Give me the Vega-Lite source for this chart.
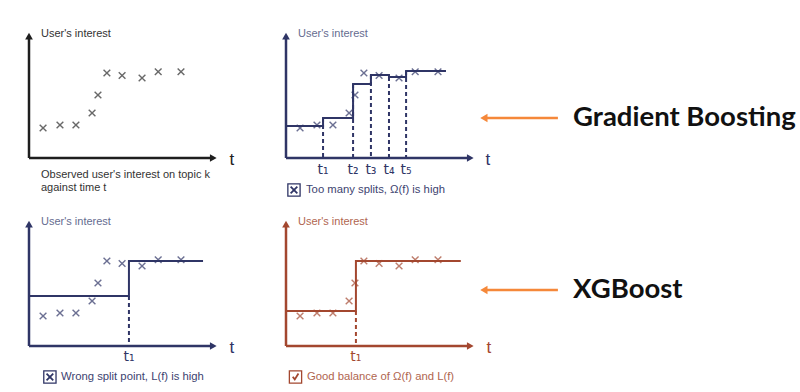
{
  "$schema": "https://vega.github.io/schema/vega-lite/v6.json",
  "background": "white",
  "padding": {"left": 25, "top": 28, "right": 0, "bottom": 0},
  "config": {"axis": {"disable": true}, "view": {"stroke": null}, "text": {"font": "Liberation Sans"}},
  "bounds": "flush",
  "columns": 3,
  "spacing": {"row": 63, "column": 67},
  "datasets": {
    "pts": [
      {"t": 0.74, "v": 2.4}, {"t": 1.63, "v": 2.64}, {"t": 2.47, "v": 2.64}, {"t": 3.32, "v": 3.6}, {"t": 3.63, "v": 5.04},
      {"t": 4.1, "v": 6.8}, {"t": 4.9, "v": 6.6}, {"t": 5.95, "v": 6.4}, {"t": 6.8, "v": 6.9}, {"t": 8.0, "v": 6.9}
    ],
    "steps2": [
      {"t": 0, "v": 2.56}, {"t": 1.95, "v": 3.2}, {"t": 3.53, "v": 5.92}, {"t": 4.47, "v": 6.64},
      {"t": 5.42, "v": 6.48}, {"t": 6.32, "v": 6.96}, {"t": 8.42, "v": 6.96}
    ],
    "splits2": [
      {"t": 1.95, "v": 3.2, "label": "t₁"}, {"t": 3.53, "v": 5.92, "label": "t₂"}, {"t": 4.47, "v": 6.64, "label": "t₃"},
      {"t": 5.42, "v": 6.48, "label": "t₄"}, {"t": 6.32, "v": 6.96, "label": "t₅"}
    ],
    "steps3": [{"t": 0, "v": 4.0}, {"t": 5.26, "v": 6.8}, {"t": 9.16, "v": 6.8}],
    "splits3": [{"t": 5.26, "v": 4.0, "label": "t₁"}],
    "steps4": [{"t": 0, "v": 2.8}, {"t": 3.68, "v": 6.8}, {"t": 9.2, "v": 6.8}],
    "splits4": [{"t": 3.68, "v": 2.8, "label": "t₁"}],
    "one": [{"s": "User's interest"}]
  },
  "concat": [
    {
      "width": 190, "height": 125,
      "layer": [
        {"data": {"name": "pts"}, "mark": {"type": "point", "shape": "M-1,-1L1,1M1,-1L-1,1", "size": 45, "filled": false, "stroke": "#2a2a2a", "strokeWidth": 1.4},
         "encoding": {"x": {"field": "t", "type": "quantitative", "scale": {"domain": [0, 10], "nice": false, "zero": false}},
                      "y": {"field": "v", "type": "quantitative", "scale": {"domain": [0, 10], "nice": false, "zero": false}}}},
        {"data": {"name": "one"}, "mark": {"type": "rule", "color": "#1e1e1e", "strokeWidth": 2.5}, "encoding": {"x": {"datum": 0}, "x2": {"datum": 9.7}, "y": {"datum": 0}}},
        {"data": {"name": "one"}, "mark": {"type": "rule", "color": "#1e1e1e", "strokeWidth": 2.5}, "encoding": {"x": {"datum": 0}, "y": {"datum": 0}, "y2": {"datum": 9.7}}},
        {"data": {"name": "one"}, "mark": {"type": "point", "shape": "triangle-right", "size": 60, "filled": true, "color": "#1e1e1e", "opacity": 1}, "encoding": {"x": {"datum": 9.7}, "y": {"datum": 0}}},
        {"data": {"name": "one"}, "mark": {"type": "point", "shape": "triangle-up", "size": 60, "filled": true, "color": "#1e1e1e", "opacity": 1}, "encoding": {"x": {"datum": 0}, "y": {"datum": 9.75}}},
        {"data": {"name": "one"}, "mark": {"type": "text", "text": "t", "fontSize": 17, "color": "#222", "align": "center", "baseline": "middle"}, "encoding": {"x": {"datum": 10.68}, "y": {"datum": -0.16}}},
        {"data": {"name": "one"}, "mark": {"type": "text", "fontSize": 11, "color": "#333", "align": "left", "baseline": "middle"}, "encoding": {"x": {"datum": 0.63}, "y": {"datum": 9.92}, "text": {"field": "s"}}},
        {"data": {"name": "one"}, "mark": {"type": "text", "text": ["Observed user's interest on topic k", "against time t"], "lineHeight": 13, "fontSize": 11, "color": "#333", "align": "left", "baseline": "top"}, "encoding": {"x": {"datum": 0.63}, "y": {"datum": -0.88}}}
      ]
    },
    {
      "width": 190, "height": 125,
      "layer": [
        {"data": {"name": "splits2"}, "mark": {"type": "rule", "color": "#2f3566", "strokeWidth": 2, "strokeDash": [4, 3]},
         "encoding": {"x": {"field": "t", "type": "quantitative", "scale": {"domain": [0, 10], "nice": false, "zero": false}},
                      "y": {"field": "v", "type": "quantitative", "scale": {"domain": [0, 10], "nice": false, "zero": false}}, "y2": {"datum": 0}}},
        {"data": {"name": "steps2"}, "mark": {"type": "line", "interpolate": "step-after", "color": "#2f3566", "strokeWidth": 2},
         "encoding": {"x": {"field": "t", "type": "quantitative"}, "y": {"field": "v", "type": "quantitative"}}},
        {"data": {"name": "pts"}, "mark": {"type": "point", "shape": "M-1,-1L1,1M1,-1L-1,1", "size": 45, "filled": false, "stroke": "#2f3566", "strokeWidth": 1.4},
         "encoding": {"x": {"field": "t", "type": "quantitative"}, "y": {"field": "v", "type": "quantitative"}}},
        {"data": {"name": "splits2"}, "mark": {"type": "text", "font": "DejaVu Sans", "fontSize": 14, "color": "#2f3566", "align": "center", "baseline": "middle", "dy": 12},
         "encoding": {"x": {"field": "t", "type": "quantitative"}, "y": {"datum": 0}, "text": {"field": "label"}}},
        {"data": {"name": "one"}, "mark": {"type": "rule", "color": "#2f3566", "strokeWidth": 2.5}, "encoding": {"x": {"datum": 0}, "x2": {"datum": 9.7}, "y": {"datum": 0}}},
        {"data": {"name": "one"}, "mark": {"type": "rule", "color": "#2f3566", "strokeWidth": 2.5}, "encoding": {"x": {"datum": 0}, "y": {"datum": 0}, "y2": {"datum": 9.7}}},
        {"data": {"name": "one"}, "mark": {"type": "point", "shape": "triangle-right", "size": 60, "filled": true, "color": "#2f3566", "opacity": 1}, "encoding": {"x": {"datum": 9.7}, "y": {"datum": 0}}},
        {"data": {"name": "one"}, "mark": {"type": "point", "shape": "triangle-up", "size": 60, "filled": true, "color": "#2f3566", "opacity": 1}, "encoding": {"x": {"datum": 0}, "y": {"datum": 9.75}}},
        {"data": {"name": "one"}, "mark": {"type": "text", "text": "t", "fontSize": 17, "color": "#2f3566", "align": "center", "baseline": "middle"}, "encoding": {"x": {"datum": 10.63}, "y": {"datum": -0.16}}},
        {"data": {"name": "one"}, "mark": {"type": "text", "fontSize": 11, "color": "#656c90", "align": "left", "baseline": "middle"}, "encoding": {"x": {"datum": 0.63}, "y": {"datum": 9.92}, "text": {"field": "s"}}},
        {"data": {"name": "one"}, "mark": {"type": "point", "shape": "square", "size": 150, "filled": false, "stroke": "#2f3566", "strokeWidth": 1.3, "opacity": 1}, "encoding": {"x": {"datum": 0.42}, "y": {"datum": -2.56}}},
        {"data": {"name": "one"}, "mark": {"type": "point", "shape": "M-1,-1L1,1M1,-1L-1,1", "size": 45, "filled": false, "stroke": "#2f3566", "strokeWidth": 1.8, "opacity": 1}, "encoding": {"x": {"datum": 0.42}, "y": {"datum": -2.56}}},
        {"data": {"name": "one"}, "mark": {"type": "text", "text": "Too many splits, Ω(f) is high", "fontSize": 11.3, "color": "#3d4370", "align": "left", "baseline": "middle"}, "encoding": {"x": {"datum": 1.05}, "y": {"datum": -2.56}}}
      ]
    },
    {
      "width": 257, "height": 125,
      "data": {"values": [{"row": 1, "label": "Gradient Boosting"}, {"row": 2, "label": "XGBoost"}]},
      "layer": [
        {"mark": {"type": "rule", "color": "#f5883a", "strokeWidth": 2.5},
         "encoding": {"x": {"datum": -2.3, "scale": {"domain": [0, 10], "nice": false, "zero": false}}, "x2": {"datum": 0.58},
                      "y": {"field": "row", "type": "quantitative", "scale": {"domain": [0.5058, 1.2326], "reverse": true, "nice": false, "zero": false}}}},
        {"mark": {"type": "point", "shape": "triangle-left", "size": 70, "filled": true, "color": "#f5883a", "opacity": 1},
         "encoding": {"x": {"datum": -2.3}, "y": {"field": "row", "type": "quantitative"}}},
        {"mark": {"type": "text", "font": "Lato", "fontWeight": "bold", "fontSize": 27.5, "color": "#111111", "align": "left", "baseline": "middle"},
         "encoding": {"x": {"datum": 1.17}, "y": {"field": "row", "type": "quantitative"}, "text": {"field": "label"}}}
      ]
    },
    {
      "width": 190, "height": 125,
      "layer": [
        {"data": {"name": "splits3"}, "mark": {"type": "rule", "color": "#2f3566", "strokeWidth": 2, "strokeDash": [4, 3]},
         "encoding": {"x": {"field": "t", "type": "quantitative", "scale": {"domain": [0, 10], "nice": false, "zero": false}},
                      "y": {"field": "v", "type": "quantitative", "scale": {"domain": [0, 10], "nice": false, "zero": false}}, "y2": {"datum": 0}}},
        {"data": {"name": "steps3"}, "mark": {"type": "line", "interpolate": "step-after", "color": "#2f3566", "strokeWidth": 2},
         "encoding": {"x": {"field": "t", "type": "quantitative"}, "y": {"field": "v", "type": "quantitative"}}},
        {"data": {"name": "pts"}, "mark": {"type": "point", "shape": "M-1,-1L1,1M1,-1L-1,1", "size": 45, "filled": false, "stroke": "#2f3566", "strokeWidth": 1.4},
         "encoding": {"x": {"field": "t", "type": "quantitative"}, "y": {"field": "v", "type": "quantitative"}}},
        {"data": {"name": "splits3"}, "mark": {"type": "text", "font": "DejaVu Sans", "fontSize": 14, "color": "#2f3566", "align": "center", "baseline": "middle", "dy": 11},
         "encoding": {"x": {"field": "t", "type": "quantitative"}, "y": {"datum": 0}, "text": {"field": "label"}}},
        {"data": {"name": "one"}, "mark": {"type": "rule", "color": "#2f3566", "strokeWidth": 2.5}, "encoding": {"x": {"datum": 0}, "x2": {"datum": 9.7}, "y": {"datum": 0}}},
        {"data": {"name": "one"}, "mark": {"type": "rule", "color": "#2f3566", "strokeWidth": 2.5}, "encoding": {"x": {"datum": 0}, "y": {"datum": 0}, "y2": {"datum": 9.7}}},
        {"data": {"name": "one"}, "mark": {"type": "point", "shape": "triangle-right", "size": 60, "filled": true, "color": "#2f3566", "opacity": 1}, "encoding": {"x": {"datum": 9.7}, "y": {"datum": 0}}},
        {"data": {"name": "one"}, "mark": {"type": "point", "shape": "triangle-up", "size": 60, "filled": true, "color": "#2f3566", "opacity": 1}, "encoding": {"x": {"datum": 0}, "y": {"datum": 9.75}}},
        {"data": {"name": "one"}, "mark": {"type": "text", "text": "t", "fontSize": 17, "color": "#2f3566", "align": "center", "baseline": "middle"}, "encoding": {"x": {"datum": 10.68}, "y": {"datum": -0.16}}},
        {"data": {"name": "one"}, "mark": {"type": "text", "fontSize": 11, "color": "#656c90", "align": "left", "baseline": "middle"}, "encoding": {"x": {"datum": 0.63}, "y": {"datum": 9.92}, "text": {"field": "s"}}},
        {"data": {"name": "one"}, "mark": {"type": "point", "shape": "square", "size": 150, "filled": false, "stroke": "#2f3566", "strokeWidth": 1.3, "opacity": 1}, "encoding": {"x": {"datum": 1.1}, "y": {"datum": -2.48}}},
        {"data": {"name": "one"}, "mark": {"type": "point", "shape": "M-1,-1L1,1M1,-1L-1,1", "size": 45, "filled": false, "stroke": "#2f3566", "strokeWidth": 1.8, "opacity": 1}, "encoding": {"x": {"datum": 1.1}, "y": {"datum": -2.48}}},
        {"data": {"name": "one"}, "mark": {"type": "text", "text": "Wrong split point, L(f) is high", "fontSize": 11.3, "color": "#3d4370", "align": "left", "baseline": "middle"}, "encoding": {"x": {"datum": 1.68}, "y": {"datum": -2.48}}}
      ]
    },
    {
      "width": 190, "height": 125,
      "layer": [
        {"data": {"name": "splits4"}, "mark": {"type": "rule", "color": "#a3472f", "strokeWidth": 2, "strokeDash": [4, 3]},
         "encoding": {"x": {"field": "t", "type": "quantitative", "scale": {"domain": [0, 10], "nice": false, "zero": false}},
                      "y": {"field": "v", "type": "quantitative", "scale": {"domain": [0, 10], "nice": false, "zero": false}}, "y2": {"datum": 0}}},
        {"data": {"name": "steps4"}, "mark": {"type": "line", "interpolate": "step-after", "color": "#a3472f", "strokeWidth": 2},
         "encoding": {"x": {"field": "t", "type": "quantitative"}, "y": {"field": "v", "type": "quantitative"}}},
        {"data": {"name": "pts"}, "mark": {"type": "point", "shape": "M-1,-1L1,1M1,-1L-1,1", "size": 45, "filled": false, "stroke": "#a3472f", "strokeWidth": 1.4},
         "encoding": {"x": {"field": "t", "type": "quantitative"}, "y": {"field": "v", "type": "quantitative"}}},
        {"data": {"name": "splits4"}, "mark": {"type": "text", "font": "DejaVu Sans", "fontSize": 14, "color": "#a3472f", "align": "center", "baseline": "middle", "dy": 11},
         "encoding": {"x": {"field": "t", "type": "quantitative"}, "y": {"datum": 0}, "text": {"field": "label"}}},
        {"data": {"name": "one"}, "mark": {"type": "rule", "color": "#a3472f", "strokeWidth": 2.5}, "encoding": {"x": {"datum": 0}, "x2": {"datum": 9.7}, "y": {"datum": 0}}},
        {"data": {"name": "one"}, "mark": {"type": "rule", "color": "#a3472f", "strokeWidth": 2.5}, "encoding": {"x": {"datum": 0}, "y": {"datum": 0}, "y2": {"datum": 9.7}}},
        {"data": {"name": "one"}, "mark": {"type": "point", "shape": "triangle-right", "size": 60, "filled": true, "color": "#a3472f", "opacity": 1}, "encoding": {"x": {"datum": 9.7}, "y": {"datum": 0}}},
        {"data": {"name": "one"}, "mark": {"type": "point", "shape": "triangle-up", "size": 60, "filled": true, "color": "#a3472f", "opacity": 1}, "encoding": {"x": {"datum": 0}, "y": {"datum": 9.75}}},
        {"data": {"name": "one"}, "mark": {"type": "text", "text": "t", "fontSize": 17, "color": "#a3472f", "align": "center", "baseline": "middle"}, "encoding": {"x": {"datum": 10.68}, "y": {"datum": -0.16}}},
        {"data": {"name": "one"}, "mark": {"type": "text", "fontSize": 11, "color": "#b0654f", "align": "left", "baseline": "middle"}, "encoding": {"x": {"datum": 0.63}, "y": {"datum": 9.92}, "text": {"field": "s"}}},
        {"data": {"name": "one"}, "mark": {"type": "point", "shape": "square", "size": 150, "filled": false, "stroke": "#a3472f", "strokeWidth": 1.3, "opacity": 1}, "encoding": {"x": {"datum": 0.5}, "y": {"datum": -2.48}}},
        {"data": {"name": "one"}, "mark": {"type": "point", "shape": "M-0.75,-0.05L-0.2,0.65L0.8,-0.95", "size": 55, "filled": false, "stroke": "#a3472f", "strokeWidth": 1.8, "opacity": 1}, "encoding": {"x": {"datum": 0.5}, "y": {"datum": -2.48}}},
        {"data": {"name": "one"}, "mark": {"type": "text", "text": "Good balance of Ω(f) and L(f)", "fontSize": 11.3, "color": "#b0654f", "align": "left", "baseline": "middle"}, "encoding": {"x": {"datum": 1.1}, "y": {"datum": -2.48}}}
      ]
    }
  ]
}
